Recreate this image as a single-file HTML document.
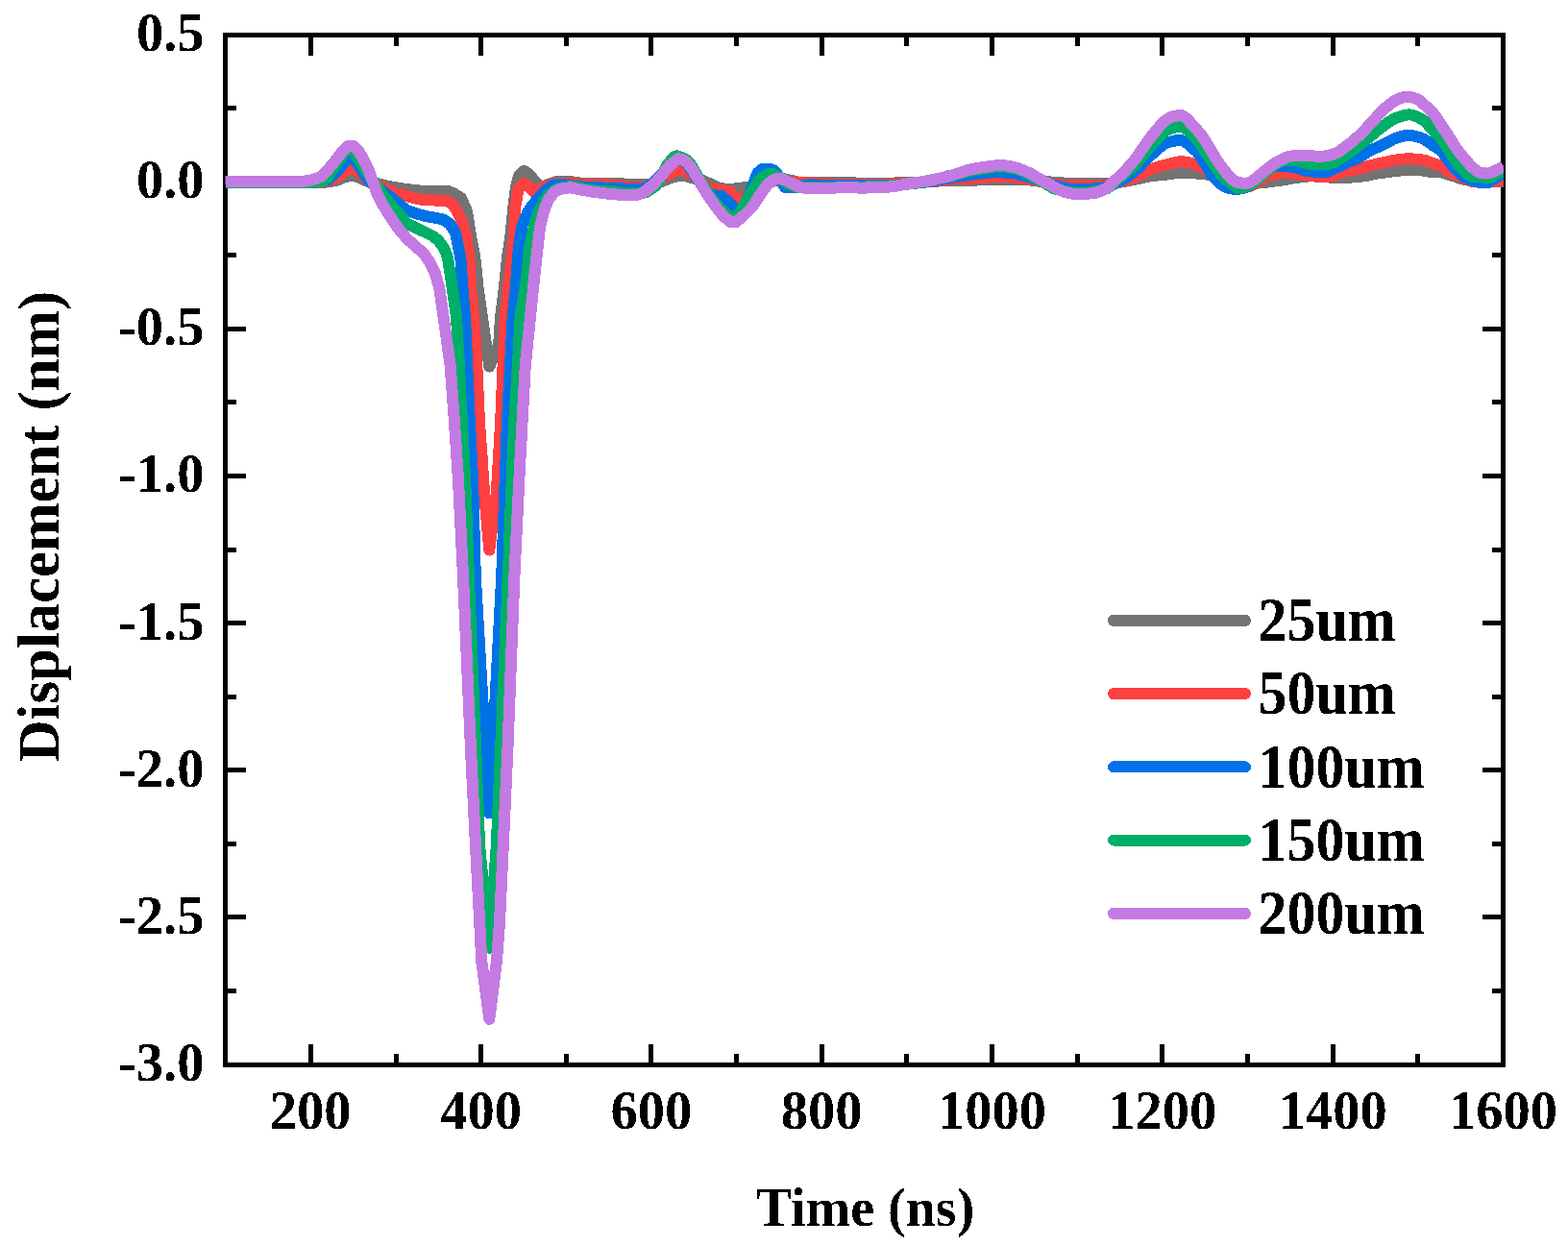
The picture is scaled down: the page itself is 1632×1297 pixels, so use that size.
<!DOCTYPE html><html><head><meta charset="utf-8"><title>Displacement vs Time</title>
<style>html,body{margin:0;padding:0;background:#fff;}body{width:1632px;height:1297px;overflow:hidden;}svg{display:block;}text{font-family:'Liberation Serif','Times New Roman',serif;font-weight:bold;fill:#000;}</style></head><body>
<svg width="1632" height="1297" viewBox="0 0 1632 1297">
<rect x="0" y="0" width="1632" height="1297" fill="#fff"/>
<defs><filter id="bin" x="-0.05" y="-0.05" width="1.1" height="1.1" color-interpolation-filters="sRGB"><feComponentTransfer><feFuncA type="discrete" tableValues="0 1"/></feComponentTransfer></filter></defs>
<path d="M237,36.50h19M1562,36.50h-19M237,112.50h9M1562,112.50h-9M237,189.50h19M1562,189.50h-19M237,265.50h9M1562,265.50h-9M237,342.50h19M1562,342.50h-19M237,418.50h9M1562,418.50h-9M237,495.50h19M1562,495.50h-19M237,572.50h9M1562,572.50h-9M237,648.50h19M1562,648.50h-19M237,725.50h9M1562,725.50h-9M237,801.50h19M1562,801.50h-19M237,878.50h9M1562,878.50h-9M237,954.50h19M1562,954.50h-19M237,1031.50h9M1562,1031.50h-9M237,1108.50h19M1562,1108.50h-19M323.50,1106v-19M323.50,39v19M412.50,1106v-9M412.50,39v9M500.50,1106v-19M500.50,39v19M589.50,1106v-9M589.50,39v9M677.50,1106v-19M677.50,39v19M766.50,1106v-9M766.50,39v9M855.50,1106v-19M855.50,39v19M943.50,1106v-9M943.50,39v9M1032.50,1106v-19M1032.50,39v19M1121.50,1106v-9M1121.50,39v9M1209.50,1106v-19M1209.50,39v19M1298.50,1106v-9M1298.50,39v9M1387.50,1106v-19M1387.50,39v19M1475.50,1106v-9M1475.50,39v9" stroke="#000" stroke-width="5" fill="none"/>
<rect x="234.5" y="36.5" width="1330" height="1072" fill="none" stroke="#000" stroke-width="5"/>
<defs><clipPath id="pa"><rect x="234.5" y="0" width="1330.4" height="1297"/></clipPath></defs><g clip-path="url(#pa)" shape-rendering="crispEdges">
<polyline points="234.5,189.5 340,189.5 350,188.0 358,184.5 366,182.5 372,184.0 380,188.0 385,189.5 392,191.0 403,193.7 418.5,196.4 438.6,198.7 467,199.1 472.5,201.5 480,206.0 486,220.0 490,246.0 494.3,268.0 497.6,300.0 501.8,330.0 509.4,381.6 519.1,359.0 521.1,330.0 524.8,300.0 528,268.0 531.3,246.0 534.5,214.0 537,195.0 540,183.0 545.2,178.0 550,180.5 557,189.0 563,195.5 570,192.0 580,189.0 593,189.0 605,190.7 640,191.0 650,191.5 676,192.3 688.6,188.9 697.2,185.5 705.8,182.9 714.4,183.3 720,185.0 731.5,188.0 748.7,195.8 760,197.5 767,196.0 778,195.0 790,192.0 800,190.0 815,186.0 834,190.3 835.5,190.3 837,190.3 838.5,190.3 840,190.3 841.5,190.3 843,190.3 844.5,190.3 846,190.3 847.5,190.3 849,190.3 850.5,190.3 852,190.3 853.5,190.3 855,190.3 856.5,190.3 858,190.3 859.5,190.3 861,190.3 862.5,190.3 864,190.3 865.5,190.3 867,190.3 868.5,190.3 870,190.3 871.5,190.3 873,190.3 874.5,190.3 876,190.3 877.5,190.3 879,190.3 880.5,190.4 882,190.4 883.5,190.4 885,190.4 886.5,190.4 888,190.4 889.5,190.4 891,190.5 892.5,190.5 894,190.5 895.5,190.5 897,190.5 898.5,190.5 900,190.5 901.5,190.5 903,190.5 904.5,190.5 906,190.5 907.5,190.5 909,190.5 910.5,190.5 912,190.5 913.5,190.5 915,190.5 916.5,190.5 918,190.5 919.5,190.5 921,190.5 922.5,190.5 924,190.5 925.5,190.5 927,190.5 928.5,190.5 930,190.5 931.5,190.5 933,190.4 934.5,190.4 936,190.4 937.5,190.3 939,190.3 940.5,190.3 942,190.2 943.5,190.2 945,190.1 946.5,190.1 948,190.1 949.5,190.0 951,190.0 952.5,189.9 954,189.9 955.5,189.8 957,189.7 958.5,189.7 960,189.6 961.5,189.5 963,189.4 964.5,189.3 966,189.2 967.5,189.1 969,189.1 970.5,189.0 972,188.9 973.5,188.8 975,188.6 976.5,188.5 978,188.4 979.5,188.2 981,188.1 982.5,188.0 984,187.9 985.5,187.8 987,187.7 988.5,187.6 990,187.6 991.5,187.6 993,187.6 994.5,187.6 996,187.6 997.5,187.6 999,187.6 1000.5,187.5 1002,187.5 1003.5,187.5 1005,187.5 1006.5,187.5 1008,187.5 1009.5,187.5 1011,187.5 1012.5,187.5 1014,187.5 1015.5,187.5 1017,187.5 1018.5,187.4 1020,187.4 1021.5,187.4 1023,187.3 1024.5,187.3 1026,187.3 1027.5,187.2 1029,187.2 1030.5,187.1 1032,187.1 1033.5,187.0 1035,187.0 1036.5,187.0 1038,186.9 1039.5,186.8 1041,186.8 1042.5,186.7 1044,186.6 1045.5,186.6 1047,186.5 1048.5,186.5 1050,186.5 1051.5,186.5 1053,186.5 1054.5,186.6 1056,186.6 1057.5,186.7 1059,186.7 1060.5,186.8 1062,186.9 1063.5,186.9 1065,187.0 1066.5,187.1 1068,187.2 1069.5,187.3 1071,187.4 1072.5,187.5 1074,187.6 1075.5,187.7 1077,187.8 1078.5,187.9 1080,188.1 1081.5,188.2 1083,188.4 1084.5,188.5 1086,188.7 1087.5,188.8 1089,189.0 1090.5,189.2 1092,189.3 1093.5,189.5 1095,189.6 1096.5,189.7 1098,189.9 1099.5,190.0 1101,190.1 1102.5,190.2 1104,190.3 1105.5,190.4 1107,190.5 1108.5,190.6 1110,190.6 1111.5,190.7 1113,190.8 1114.5,190.9 1116,191.0 1117.5,191.0 1119,191.1 1120.5,191.1 1122,191.1 1123.5,191.1 1125,191.1 1126.5,191.1 1128,191.1 1129.5,191.1 1131,191.1 1132.5,191.1 1134,191.1 1135.5,191.1 1137,191.1 1138.5,191.1 1140,191.1 1141.5,191.1 1143,191.1 1144.5,191.1 1146,191.1 1147.5,191.1 1149,191.1 1150.5,191.1 1152,191.1 1153.5,191.0 1155,190.9 1156.5,190.7 1158,190.6 1159.5,190.4 1161,190.2 1162.5,190.1 1164,189.9 1165.5,189.7 1167,189.5 1168.5,189.2 1170,188.9 1171.5,188.7 1173,188.4 1174.5,188.1 1176,187.8 1177.5,187.5 1179,187.2 1180.5,186.9 1182,186.6 1183.5,186.3 1185,186.0 1186.5,185.6 1188,185.3 1189.5,185.0 1191,184.6 1192.5,184.3 1194,184.0 1195.5,183.7 1197,183.5 1198.5,183.2 1200,183.0 1201.5,182.8 1203,182.6 1204.5,182.5 1206,182.3 1207.5,182.2 1209,182.1 1210.5,181.9 1212,181.8 1213.5,181.7 1215,181.5 1216.5,181.3 1218,181.1 1219.5,180.8 1221,180.6 1222.5,180.3 1224,180.1 1225.5,179.9 1227,179.7 1228.5,179.6 1230,179.6 1231.5,179.6 1233,179.7 1234.5,179.7 1236,179.8 1237.5,179.9 1239,180.0 1240.5,180.1 1242,180.3 1243.5,180.4 1245,180.5 1246.5,180.6 1248,180.7 1249.5,180.9 1251,181.0 1252.5,181.1 1254,181.3 1255.5,181.5 1257,181.7 1258.5,181.9 1260,182.2 1261.5,182.6 1263,183.0 1264.5,183.4 1266,183.8 1267.5,184.3 1269,184.7 1270.5,185.1 1272,185.5 1273.5,186.0 1275,186.4 1276.5,186.8 1278,187.2 1279.5,187.6 1281,188.0 1282.5,188.4 1284,188.8 1285.5,189.1 1287,189.5 1288.5,189.9 1290,190.3 1291.5,190.6 1293,190.9 1294.5,191.0 1296,191.0 1297.5,191.0 1299,190.9 1300.5,190.9 1302,190.9 1303.5,190.8 1305,190.7 1306.5,190.7 1308,190.6 1309.5,190.5 1311,190.4 1312.5,190.2 1314,190.1 1315.5,189.9 1317,189.8 1318.5,189.6 1320,189.4 1321.5,189.2 1323,189.0 1324.5,188.8 1326,188.6 1327.5,188.4 1329,188.2 1330.5,188.0 1332,187.8 1333.5,187.6 1335,187.4 1336.5,187.2 1338,187.0 1339.5,186.7 1341,186.5 1342.5,186.1 1344,185.8 1345.5,185.5 1347,185.3 1348.5,185.0 1350,184.8 1351.5,184.6 1353,184.4 1354.5,184.2 1356,184.1 1357.5,183.9 1359,183.8 1360.5,183.6 1362,183.5 1363.5,183.4 1365,183.4 1366.5,183.4 1368,183.5 1369.5,183.5 1371,183.6 1372.5,183.7 1374,183.9 1375.5,184.0 1377,184.1 1378.5,184.3 1380,184.4 1381.5,184.4 1383,184.5 1384.5,184.5 1386,184.5 1387.5,184.5 1389,184.5 1390.5,184.5 1392,184.5 1393.5,184.5 1395,184.5 1396.5,184.5 1398,184.5 1399.5,184.5 1401,184.5 1402.5,184.5 1404,184.5 1405.5,184.5 1407,184.5 1408.5,184.4 1410,184.3 1411.5,184.2 1413,184.0 1414.5,183.9 1416,183.7 1417.5,183.5 1419,183.3 1420.5,183.1 1422,182.9 1423.5,182.6 1425,182.3 1426.5,182.0 1428,181.7 1429.5,181.3 1431,181.0 1432.5,180.7 1434,180.5 1435.5,180.3 1437,180.1 1438.5,179.9 1440,179.7 1441.5,179.5 1443,179.3 1444.5,179.0 1446,178.8 1447.5,178.6 1449,178.4 1450.5,178.2 1452,178.0 1453.5,177.9 1455,177.7 1456.5,177.6 1458,177.4 1459.5,177.3 1461,177.2 1462.5,177.1 1464,177.1 1465.5,177.0 1467,177.0 1468.5,177.0 1470,177.0 1471.5,177.1 1473,177.1 1474.5,177.2 1476,177.3 1477.5,177.4 1479,177.4 1480.5,177.5 1482,177.7 1483.5,177.9 1485,178.2 1486.5,178.5 1488,178.7 1489.5,179.0 1491,179.2 1492.5,179.3 1494,179.3 1495.5,179.3 1497,179.4 1498.5,179.4 1500,179.4 1501.5,179.6 1503,180.0 1504.5,180.6 1506,181.2 1507.5,181.7 1509,182.1 1510.5,182.6 1512,183.0 1513.5,183.5 1515,184.0 1516.5,184.5 1518,185.1 1519.5,185.6 1521,186.1 1522.5,186.4 1524,186.8 1525.5,187.1 1527,187.3 1528.5,187.5 1530,187.6 1531.5,187.8 1533,187.9 1534.5,188.0 1536,188.1 1537.5,188.2 1539,188.3 1540.5,188.3 1542,188.4 1543.5,188.5 1545,188.5 1546.5,188.5 1548,188.6 1549.5,188.6 1551,188.6 1552.5,188.7 1554,188.7 1555.5,188.7 1557,188.7 1558.5,188.8 1560,188.8 1561.5,188.8 1563,188.8 1564.5,188.8 1565,188.8" fill="none" stroke="#737373" stroke-width="12" stroke-linejoin="round" stroke-linecap="butt"/>
<polyline points="234.5,189.5 335,189.5 345,187.5 352,184.0 358,179.0 364.5,174.7 370,177.1 376,181.5 383,187.5 392,192.5 410.8,200.7 429.3,205.7 440,208.0 447.8,208.4 465,208.8 471.3,212.7 477,222.0 481.5,233.0 485.4,246.4 488.3,268.0 490.1,300.0 493.2,330.0 496.3,380.0 499,440.0 501.9,480.0 504,512.7 509.3,572.6 516.8,512.7 518.8,480.0 521.1,440.0 523.6,380.0 525.8,330.0 529,300.0 532.5,268.0 535,246.0 536.5,214.0 539.5,197.0 545.2,190.8 551.2,195.1 556.6,200.5 564.7,195.3 575.5,190.7 594,190.7 605.5,192.2 620,192.3 640,192.6 650,194.0 671.5,195.8 690,185.0 707.5,175.4 724,184.0 740,197.5 745,197.2 760,199.5 769,211.0 776,204.0 782,197.0 790,190.0 800,186.0 810,188.0 820,190.0 835,190.0 836.5,189.8 838,189.7 839.5,189.6 841,189.5 842.5,189.5 844,189.5 845.5,189.6 847,189.7 848.5,189.8 850,190.0 851.5,190.2 853,190.4 854.5,190.6 856,190.8 857.5,191.0 859,191.1 860.5,191.2 862,191.3 863.5,191.4 865,191.5 866.5,191.6 868,191.6 869.5,191.7 871,191.8 872.5,191.8 874,191.9 875.5,191.9 877,192.0 878.5,192.0 880,192.0 881.5,192.0 883,192.0 884.5,191.9 886,191.9 887.5,191.8 889,191.8 890.5,191.7 892,191.7 893.5,191.6 895,191.6 896.5,191.5 898,191.5 899.5,191.5 901,191.5 902.5,191.5 904,191.5 905.5,191.5 907,191.5 908.5,191.5 910,191.5 911.5,191.5 913,191.5 914.5,191.5 916,191.5 917.5,191.5 919,191.5 920.5,191.5 922,191.5 923.5,191.5 925,191.5 926.5,191.5 928,191.5 929.5,191.4 931,191.4 932.5,191.4 934,191.3 935.5,191.3 937,191.2 938.5,191.1 940,191.0 941.5,191.0 943,190.9 944.5,190.8 946,190.7 947.5,190.6 949,190.6 950.5,190.5 952,190.4 953.5,190.3 955,190.2 956.5,190.1 958,190.0 959.5,189.9 961,189.8 962.5,189.7 964,189.5 965.5,189.4 967,189.3 968.5,189.1 970,189.0 971.5,188.8 973,188.7 974.5,188.5 976,188.3 977.5,188.0 979,187.8 980.5,187.6 982,187.4 983.5,187.2 985,187.0 986.5,186.8 988,186.7 989.5,186.5 991,186.4 992.5,186.3 994,186.3 995.5,186.2 997,186.1 998.5,186.1 1000,186.0 1001.5,186.0 1003,185.9 1004.5,185.8 1006,185.8 1007.5,185.7 1009,185.7 1010.5,185.6 1012,185.5 1013.5,185.5 1015,185.4 1016.5,185.3 1018,185.2 1019.5,185.1 1021,185.0 1022.5,184.9 1024,184.8 1025.5,184.7 1027,184.6 1028.5,184.5 1030,184.4 1031.5,184.4 1033,184.3 1034.5,184.3 1036,184.3 1037.5,184.3 1039,184.3 1040.5,184.3 1042,184.3 1043.5,184.3 1045,184.3 1046.5,184.3 1048,184.3 1049.5,184.3 1051,184.3 1052.5,184.4 1054,184.4 1055.5,184.5 1057,184.7 1058.5,184.8 1060,185.0 1061.5,185.2 1063,185.4 1064.5,185.7 1066,185.9 1067.5,186.1 1069,186.4 1070.5,186.6 1072,186.9 1073.5,187.1 1075,187.3 1076.5,187.6 1078,187.9 1079.5,188.2 1081,188.5 1082.5,188.9 1084,189.2 1085.5,189.6 1087,189.9 1088.5,190.3 1090,190.6 1091.5,190.9 1093,191.2 1094.5,191.5 1096,191.7 1097.5,191.9 1099,192.1 1100.5,192.2 1102,192.4 1103.5,192.5 1105,192.6 1106.5,192.7 1108,192.8 1109.5,192.9 1111,192.9 1112.5,193.0 1114,193.1 1115.5,193.2 1117,193.2 1118.5,193.2 1120,193.3 1121.5,193.3 1123,193.3 1124.5,193.3 1126,193.3 1127.5,193.3 1129,193.3 1130.5,193.3 1132,193.2 1133.5,193.2 1135,193.2 1136.5,193.2 1138,193.1 1139.5,193.1 1141,193.1 1142.5,193.0 1144,193.0 1145.5,193.0 1147,192.9 1148.5,192.9 1150,192.8 1151.5,192.7 1153,192.5 1154.5,192.2 1156,191.9 1157.5,191.5 1159,191.1 1160.5,190.7 1162,190.3 1163.5,189.9 1165,189.5 1166.5,189.1 1168,188.7 1169.5,188.2 1171,187.8 1172.5,187.3 1174,186.9 1175.5,186.4 1177,185.9 1178.5,185.3 1180,184.8 1181.5,184.2 1183,183.6 1184.5,182.9 1186,182.1 1187.5,181.4 1189,180.6 1190.5,179.8 1192,179.1 1193.5,178.3 1195,177.6 1196.5,176.9 1198,176.3 1199.5,175.7 1201,175.2 1202.5,174.7 1204,174.2 1205.5,173.8 1207,173.3 1208.5,172.9 1210,172.5 1211.5,172.2 1213,171.8 1214.5,171.4 1216,171.0 1217.5,170.6 1219,170.2 1220.5,169.8 1222,169.4 1223.5,169.0 1225,168.7 1226.5,168.5 1228,168.3 1229.5,168.3 1231,168.4 1232.5,168.5 1234,168.7 1235.5,169.0 1237,169.3 1238.5,169.7 1240,170.1 1241.5,170.5 1243,170.9 1244.5,171.4 1246,171.8 1247.5,172.4 1249,173.1 1250.5,173.8 1252,174.7 1253.5,175.6 1255,176.5 1256.5,177.4 1258,178.4 1259.5,179.4 1261,180.4 1262.5,181.3 1264,182.3 1265.5,183.5 1267,184.6 1268.5,185.8 1270,186.9 1271.5,188.0 1273,188.9 1274.5,189.8 1276,190.5 1277.5,191.2 1279,191.9 1280.5,192.5 1282,193.2 1283.5,193.7 1285,194.2 1286.5,194.6 1288,194.9 1289.5,195.0 1291,195.0 1292.5,194.9 1294,194.8 1295.5,194.7 1297,194.5 1298.5,194.2 1300,194.0 1301.5,193.6 1303,193.0 1304.5,192.1 1306,191.2 1307.5,190.2 1309,189.2 1310.5,188.3 1312,187.4 1313.5,186.6 1315,185.7 1316.5,184.8 1318,183.9 1319.5,183.2 1321,182.6 1322.5,182.2 1324,181.8 1325.5,181.4 1327,181.1 1328.5,180.8 1330,180.6 1331.5,180.5 1333,180.4 1334.5,180.4 1336,180.4 1337.5,180.4 1339,180.4 1340.5,180.4 1342,180.4 1343.5,180.4 1345,180.4 1346.5,180.6 1348,180.8 1349.5,181.0 1351,181.3 1352.5,181.6 1354,181.9 1355.5,182.1 1357,182.3 1358.5,182.6 1360,182.8 1361.5,183.0 1363,183.2 1364.5,183.3 1366,183.3 1367.5,183.4 1369,183.4 1370.5,183.5 1372,183.5 1373.5,183.6 1375,183.6 1376.5,183.6 1378,183.7 1379.5,183.7 1381,183.7 1382.5,183.7 1384,183.7 1385.5,183.6 1387,183.3 1388.5,182.8 1390,182.2 1391.5,181.6 1393,181.0 1394.5,180.3 1396,179.8 1397.5,179.4 1399,179.0 1400.5,178.6 1402,178.3 1403.5,178.0 1405,177.6 1406.5,177.3 1408,177.0 1409.5,176.7 1411,176.4 1412.5,176.1 1414,175.8 1415.5,175.4 1417,175.1 1418.5,174.7 1420,174.2 1421.5,173.8 1423,173.3 1424.5,172.9 1426,172.4 1427.5,172.0 1429,171.6 1430.5,171.2 1432,170.9 1433.5,170.6 1435,170.3 1436.5,170.0 1438,169.7 1439.5,169.4 1441,169.1 1442.5,168.8 1444,168.4 1445.5,168.1 1447,167.8 1448.5,167.4 1450,167.1 1451.5,166.9 1453,166.6 1454.5,166.4 1456,166.2 1457.5,166.0 1459,165.8 1460.5,165.7 1462,165.5 1463.5,165.4 1465,165.3 1466.5,165.3 1468,165.3 1469.5,165.4 1471,165.5 1472.5,165.6 1474,165.7 1475.5,165.9 1477,166.0 1478.5,166.2 1480,166.4 1481.5,166.7 1483,167.0 1484.5,167.5 1486,168.0 1487.5,168.6 1489,169.2 1490.5,169.7 1492,170.3 1493.5,170.8 1495,171.3 1496.5,171.7 1498,172.2 1499.5,172.8 1501,173.5 1502.5,174.6 1504,175.8 1505.5,177.0 1507,178.0 1508.5,178.9 1510,179.7 1511.5,180.6 1513,181.3 1514.5,182.1 1516,182.8 1517.5,183.5 1519,184.1 1520.5,184.8 1522,185.4 1523.5,185.9 1525,186.5 1526.5,187.1 1528,187.6 1529.5,188.1 1531,188.6 1532.5,188.9 1534,189.1 1535.5,189.3 1537,189.5 1538.5,189.7 1540,189.8 1541.5,189.9 1543,190.0 1544.5,190.0 1546,190.0 1547.5,189.9 1549,189.8 1550.5,189.6 1552,189.4 1553.5,189.2 1555,189.0 1556.5,188.8 1558,188.5 1559.5,188.2 1561,187.9 1562.5,187.6 1564,187.2 1565,187.0" fill="none" stroke="#FF4040" stroke-width="12" stroke-linejoin="round" stroke-linecap="butt"/>
<polyline points="234.5,189.5 330,189.5 340,188.0 345,184.0 352,177.4 358,169.2 364,161.0 370,167.8 376,176.0 381,184.0 386,190.0 393,195.0 405,204.0 418.5,215.0 423,219.0 441,224.6 461,228.3 468,233.0 474,242.0 479.3,268.0 481.5,300.0 484,330.0 486.2,380.0 488.9,440.0 492.1,500.0 494.8,600.0 509.3,846.4 522.2,600.0 525.7,500.0 527.9,440.0 531,380.0 533.7,330.0 536.7,300.0 539.9,257.2 543.2,235.6 549.3,220.8 554.7,213.0 560.1,206.9 567,199.0 574,193.0 578.5,192.2 586.3,192.2 601.7,194.1 617.1,195.3 640,195.7 650,196.6 670,197.0 680,190.0 690,180.0 700,168.5 707,166.0 714,168.5 720,178.0 730,192.0 740,203.2 751.2,204.0 759.7,211.8 767.5,219.5 771,221.5 777,208.0 783.5,193.0 788.5,180.0 792.5,176.2 801.8,176.2 806,177.4 810.3,183.0 817,195.0 832,195.5 833.5,194.8 835,194.1 836.5,193.5 838,192.9 839.5,192.5 841,192.2 842.5,192.0 844,192.0 845.5,192.0 847,192.1 848.5,192.2 850,192.3 851.5,192.4 853,192.5 854.5,192.6 856,192.7 857.5,192.8 859,192.9 860.5,192.9 862,193.0 863.5,193.0 865,193.0 866.5,193.1 868,193.1 869.5,193.2 871,193.2 872.5,193.2 874,193.3 875.5,193.3 877,193.3 878.5,193.3 880,193.3 881.5,193.3 883,193.3 884.5,193.3 886,193.2 887.5,193.2 889,193.2 890.5,193.1 892,193.1 893.5,193.1 895,193.0 896.5,193.0 898,193.0 899.5,193.0 901,193.0 902.5,193.0 904,193.0 905.5,193.0 907,193.0 908.5,193.0 910,193.0 911.5,193.0 913,193.0 914.5,193.0 916,193.0 917.5,193.0 919,193.0 920.5,193.0 922,193.0 923.5,193.0 925,193.0 926.5,193.0 928,193.0 929.5,192.9 931,192.8 932.5,192.7 934,192.6 935.5,192.5 937,192.4 938.5,192.2 940,192.1 941.5,191.9 943,191.7 944.5,191.6 946,191.4 947.5,191.3 949,191.1 950.5,191.0 952,190.8 953.5,190.6 955,190.5 956.5,190.3 958,190.1 959.5,189.9 961,189.8 962.5,189.6 964,189.4 965.5,189.1 967,188.9 968.5,188.7 970,188.5 971.5,188.3 973,188.0 974.5,187.7 976,187.5 977.5,187.2 979,186.9 980.5,186.6 982,186.3 983.5,186.0 985,185.7 986.5,185.4 988,185.1 989.5,184.9 991,184.6 992.5,184.4 994,184.2 995.5,183.9 997,183.7 998.5,183.5 1000,183.2 1001.5,183.0 1003,182.8 1004.5,182.6 1006,182.4 1007.5,182.2 1009,182.0 1010.5,181.8 1012,181.6 1013.5,181.4 1015,181.3 1016.5,181.1 1018,180.9 1019.5,180.7 1021,180.5 1022.5,180.3 1024,180.1 1025.5,179.9 1027,179.7 1028.5,179.6 1030,179.5 1031.5,179.4 1033,179.3 1034.5,179.3 1036,179.3 1037.5,179.3 1039,179.3 1040.5,179.4 1042,179.4 1043.5,179.5 1045,179.5 1046.5,179.6 1048,179.7 1049.5,179.8 1051,179.9 1052.5,180.0 1054,180.2 1055.5,180.5 1057,180.7 1058.5,181.1 1060,181.4 1061.5,181.8 1063,182.2 1064.5,182.6 1066,183.0 1067.5,183.5 1069,183.9 1070.5,184.3 1072,184.7 1073.5,185.1 1075,185.6 1076.5,186.0 1078,186.5 1079.5,187.1 1081,187.6 1082.5,188.2 1084,188.7 1085.5,189.3 1087,189.9 1088.5,190.4 1090,191.0 1091.5,191.5 1093,192.0 1094.5,192.5 1096,192.9 1097.5,193.3 1099,193.7 1100.5,194.0 1102,194.3 1103.5,194.6 1105,194.9 1106.5,195.2 1108,195.5 1109.5,195.8 1111,196.1 1112.5,196.3 1114,196.5 1115.5,196.7 1117,196.9 1118.5,197.0 1120,197.1 1121.5,197.2 1123,197.2 1124.5,197.2 1126,197.2 1127.5,197.1 1129,197.1 1130.5,197.0 1132,196.9 1133.5,196.8 1135,196.7 1136.5,196.6 1138,196.4 1139.5,196.3 1141,196.1 1142.5,196.0 1144,195.8 1145.5,195.6 1147,195.4 1148.5,195.2 1150,195.0 1151.5,194.7 1153,194.3 1154.5,193.8 1156,193.2 1157.5,192.6 1159,191.9 1160.5,191.2 1162,190.5 1163.5,189.8 1165,189.0 1166.5,188.2 1168,187.3 1169.5,186.4 1171,185.5 1172.5,184.5 1174,183.4 1175.5,182.4 1177,181.3 1178.5,180.1 1180,179.0 1181.5,177.8 1183,176.5 1184.5,175.1 1186,173.6 1187.5,172.1 1189,170.5 1190.5,169.0 1192,167.4 1193.5,165.9 1195,164.3 1196.5,162.9 1198,161.5 1199.5,160.1 1201,158.9 1202.5,157.5 1204,156.2 1205.5,154.9 1207,153.6 1208.5,152.4 1210,151.2 1211.5,150.2 1213,149.4 1214.5,148.8 1216,148.3 1217.5,147.8 1219,147.4 1220.5,147.0 1222,146.7 1223.5,146.4 1225,146.2 1226.5,146.0 1228,146.0 1229.5,146.1 1231,146.5 1232.5,147.2 1234,148.0 1235.5,149.0 1237,150.1 1238.5,151.4 1240,152.8 1241.5,154.2 1243,155.6 1244.5,157.0 1246,158.5 1247.5,160.3 1249,162.4 1250.5,164.6 1252,166.9 1253.5,169.2 1255,171.6 1256.5,174.1 1258,176.8 1259.5,179.3 1261,181.7 1262.5,183.6 1264,185.3 1265.5,186.7 1267,188.1 1268.5,189.4 1270,190.8 1271.5,192.2 1273,193.3 1274.5,194.3 1276,194.9 1277.5,195.5 1279,196.0 1280.5,196.4 1282,196.5 1283.5,196.5 1285,196.5 1286.5,196.5 1288,196.5 1289.5,196.5 1291,196.5 1292.5,196.2 1294,195.9 1295.5,195.4 1297,194.9 1298.5,194.3 1300,193.5 1301.5,192.6 1303,191.5 1304.5,190.4 1306,189.2 1307.5,187.9 1309,186.6 1310.5,185.1 1312,183.7 1313.5,182.3 1315,181.0 1316.5,179.7 1318,178.5 1319.5,177.3 1321,176.1 1322.5,175.2 1324,174.2 1325.5,173.3 1327,172.7 1328.5,172.6 1330,172.8 1331.5,173.0 1333,173.1 1334.5,173.2 1336,173.2 1337.5,173.3 1339,173.3 1340.5,173.4 1342,173.5 1343.5,173.6 1345,173.7 1346.5,173.9 1348,174.3 1349.5,174.6 1351,175.0 1352.5,175.4 1354,176.0 1355.5,176.6 1357,177.2 1358.5,177.7 1360,178.0 1361.5,178.2 1363,178.3 1364.5,178.4 1366,178.5 1367.5,178.6 1369,178.7 1370.5,178.7 1372,178.8 1373.5,178.8 1375,178.8 1376.5,178.9 1378,178.9 1379.5,178.9 1381,178.8 1382.5,178.4 1384,177.8 1385.5,177.1 1387,176.3 1388.5,175.6 1390,175.0 1391.5,174.3 1393,173.6 1394.5,172.8 1396,172.1 1397.5,171.3 1399,170.6 1400.5,169.9 1402,169.2 1403.5,168.6 1405,168.0 1406.5,167.5 1408,166.9 1409.5,166.3 1411,165.7 1412.5,165.0 1414,164.3 1415.5,163.5 1417,162.6 1418.5,161.6 1420,160.6 1421.5,159.6 1423,158.6 1424.5,157.7 1426,156.8 1427.5,156.1 1429,155.4 1430.5,154.7 1432,154.0 1433.5,153.3 1435,152.7 1436.5,152.0 1438,151.3 1439.5,150.5 1441,149.7 1442.5,149.0 1444,148.2 1445.5,147.4 1447,146.6 1448.5,145.8 1450,145.0 1451.5,144.3 1453,143.7 1454.5,143.2 1456,142.8 1457.5,142.4 1459,142.0 1460.5,141.6 1462,141.3 1463.5,141.1 1465,141.0 1466.5,140.9 1468,141.0 1469.5,141.1 1471,141.4 1472.5,141.7 1474,142.1 1475.5,142.5 1477,143.0 1478.5,143.5 1480,144.0 1481.5,144.7 1483,145.4 1484.5,146.3 1486,147.3 1487.5,148.4 1489,149.5 1490.5,150.6 1492,151.7 1493.5,152.7 1495,153.6 1496.5,154.5 1498,155.4 1499.5,156.6 1501,158.0 1502.5,160.0 1504,162.2 1505.5,164.4 1507,166.5 1508.5,168.4 1510,170.4 1511.5,172.2 1513,174.0 1514.5,175.7 1516,177.2 1517.5,178.8 1519,180.3 1520.5,181.7 1522,183.0 1523.5,184.1 1525,185.0 1526.5,185.7 1528,186.4 1529.5,187.0 1531,187.6 1532.5,188.1 1534,188.5 1535.5,188.8 1537,189.2 1538.5,189.5 1540,189.7 1541.5,189.8 1543,189.8 1544.5,189.8 1546,189.8 1547.5,189.8 1549,189.8 1550.5,189.2 1552,188.3 1553.5,187.1 1555,186.0 1556.5,185.2 1558,184.4 1559.5,183.6 1561,182.8 1562.5,182.1 1564,181.4 1565,180.9" fill="none" stroke="#0072E6" stroke-width="12" stroke-linejoin="round" stroke-linecap="butt"/>
<polyline points="234.5,189.5 326,189.5 336,188.5 341,185.0 345,177.5 352,168.4 358,160.1 363.5,153.5 370,160.0 376,170.0 382,180.0 390,190.0 397.7,202.0 410,217.0 424,233.0 441,241.0 450,245.5 456,250.0 462,258.0 466,268.0 470,295.0 475,330.0 477.9,380.0 481,440.0 484.2,500.0 487.9,600.0 495.2,780.0 499.1,880.0 509.3,986.8 516.8,880.0 521.1,780.0 528.8,600.0 532.6,500.0 535.2,440.0 538.9,380.0 541.6,330.0 548,290.0 551,260.0 553.7,244.8 558.3,227.1 565,212.0 570,204.0 577,198.0 583,195.5 594,194.1 609.4,196.8 624.8,199.2 640,199.5 650,200.9 672,200.5 683,193.0 690,181.0 694,172.0 701.5,163.5 704.9,162.3 709.2,164.0 715.2,167.0 719.5,172.0 730,190.0 745,212.0 760.6,228.0 770,222.0 774,214.0 783,198.0 791.5,186.0 800,181.0 805,181.0 811,184.0 820,192.0 832,195.5 833.5,195.4 835,195.2 836.5,195.1 838,195.0 839.5,194.9 841,194.8 842.5,194.7 844,194.6 845.5,194.6 847,194.6 848.5,194.6 850,194.6 851.5,194.6 853,194.6 854.5,194.7 856,194.7 857.5,194.7 859,194.7 860.5,194.8 862,194.8 863.5,194.8 865,194.8 866.5,194.9 868,194.9 869.5,194.9 871,194.9 872.5,195.0 874,195.0 875.5,195.0 877,195.0 878.5,195.0 880,195.0 881.5,195.0 883,195.0 884.5,195.0 886,194.9 887.5,194.9 889,194.9 890.5,194.8 892,194.8 893.5,194.7 895,194.7 896.5,194.6 898,194.6 899.5,194.5 901,194.5 902.5,194.4 904,194.4 905.5,194.3 907,194.3 908.5,194.2 910,194.2 911.5,194.1 913,194.1 914.5,194.0 916,193.9 917.5,193.9 919,193.8 920.5,193.7 922,193.7 923.5,193.6 925,193.5 926.5,193.4 928,193.3 929.5,193.2 931,193.1 932.5,193.0 934,192.8 935.5,192.7 937,192.5 938.5,192.4 940,192.2 941.5,192.0 943,191.9 944.5,191.7 946,191.5 947.5,191.3 949,191.1 950.5,190.9 952,190.7 953.5,190.5 955,190.3 956.5,190.0 958,189.8 959.5,189.5 961,189.3 962.5,189.0 964,188.7 965.5,188.4 967,188.1 968.5,187.8 970,187.5 971.5,187.2 973,186.8 974.5,186.5 976,186.1 977.5,185.8 979,185.4 980.5,185.0 982,184.6 983.5,184.2 985,183.8 986.5,183.4 988,183.1 989.5,182.7 991,182.4 992.5,182.0 994,181.7 995.5,181.3 997,180.9 998.5,180.6 1000,180.2 1001.5,179.9 1003,179.5 1004.5,179.2 1006,178.9 1007.5,178.6 1009,178.3 1010.5,178.0 1012,177.7 1013.5,177.4 1015,177.2 1016.5,176.9 1018,176.7 1019.5,176.5 1021,176.2 1022.5,176.0 1024,175.8 1025.5,175.6 1027,175.4 1028.5,175.2 1030,175.0 1031.5,174.8 1033,174.6 1034.5,174.4 1036,174.1 1037.5,173.9 1039,173.7 1040.5,173.6 1042,173.6 1043.5,173.7 1045,173.9 1046.5,174.0 1048,174.2 1049.5,174.5 1051,174.7 1052.5,175.0 1054,175.3 1055.5,175.6 1057,175.9 1058.5,176.3 1060,176.8 1061.5,177.4 1063,178.0 1064.5,178.7 1066,179.5 1067.5,180.2 1069,181.0 1070.5,181.8 1072,182.5 1073.5,183.2 1075,184.0 1076.5,184.7 1078,185.4 1079.5,186.2 1081,186.9 1082.5,187.7 1084,188.5 1085.5,189.3 1087,190.2 1088.5,191.2 1090,192.1 1091.5,193.1 1093,194.0 1094.5,194.9 1096,195.7 1097.5,196.4 1099,196.9 1100.5,197.3 1102,197.7 1103.5,198.0 1105,198.3 1106.5,198.6 1108,198.9 1109.5,199.2 1111,199.5 1112.5,199.7 1114,199.9 1115.5,200.1 1117,200.2 1118.5,200.4 1120,200.4 1121.5,200.5 1123,200.5 1124.5,200.5 1126,200.4 1127.5,200.4 1129,200.3 1130.5,200.2 1132,200.1 1133.5,199.9 1135,199.7 1136.5,199.5 1138,199.3 1139.5,199.1 1141,198.9 1142.5,198.6 1144,198.3 1145.5,198.0 1147,197.7 1148.5,197.4 1150,197.0 1151.5,196.5 1153,195.6 1154.5,194.6 1156,193.3 1157.5,192.0 1159,190.6 1160.5,189.2 1162,187.8 1163.5,186.6 1165,185.4 1166.5,184.3 1168,183.1 1169.5,181.9 1171,180.7 1172.5,179.5 1174,178.3 1175.5,177.0 1177,175.7 1178.5,174.3 1180,172.9 1181.5,171.4 1183,169.7 1184.5,168.0 1186,166.2 1187.5,164.3 1189,162.4 1190.5,160.5 1192,158.6 1193.5,156.7 1195,154.8 1196.5,153.0 1198,151.3 1199.5,149.6 1201,148.1 1202.5,146.4 1204,144.8 1205.5,143.2 1207,141.6 1208.5,140.1 1210,138.7 1211.5,137.5 1213,136.5 1214.5,135.6 1216,135.0 1217.5,134.4 1219,133.8 1220.5,133.2 1222,132.8 1223.5,132.4 1225,132.1 1226.5,131.9 1228,131.8 1229.5,132.0 1231,132.5 1232.5,133.2 1234,134.1 1235.5,135.2 1237,136.3 1238.5,137.4 1240,138.7 1241.5,140.3 1243,142.1 1244.5,144.0 1246,146.0 1247.5,147.9 1249,149.9 1250.5,152.0 1252,154.1 1253.5,156.3 1255,158.5 1256.5,160.8 1258,163.0 1259.5,165.3 1261,167.6 1262.5,169.9 1264,172.3 1265.5,174.6 1267,176.8 1268.5,178.7 1270,180.6 1271.5,182.4 1273,184.1 1274.5,185.6 1276,186.9 1277.5,188.1 1279,189.2 1280.5,190.2 1282,191.3 1283.5,192.5 1285,193.7 1286.5,194.9 1288,195.8 1289.5,196.3 1291,196.2 1292.5,195.6 1294,194.9 1295.5,194.3 1297,193.8 1298.5,193.3 1300,192.7 1301.5,191.9 1303,191.1 1304.5,190.1 1306,189.0 1307.5,187.8 1309,186.6 1310.5,185.4 1312,184.2 1313.5,182.9 1315,181.6 1316.5,180.2 1318,178.8 1319.5,177.5 1321,176.3 1322.5,175.1 1324,173.9 1325.5,172.7 1327,171.5 1328.5,170.4 1330,169.5 1331.5,168.7 1333,168.2 1334.5,167.9 1336,167.5 1337.5,167.2 1339,167.0 1340.5,166.8 1342,166.7 1343.5,166.6 1345,166.6 1346.5,166.8 1348,167.0 1349.5,167.2 1351,167.5 1352.5,167.8 1354,168.3 1355.5,168.9 1357,169.5 1358.5,170.1 1360,170.4 1361.5,170.6 1363,170.8 1364.5,171.0 1366,171.1 1367.5,171.2 1369,171.3 1370.5,171.3 1372,171.3 1373.5,171.2 1375,171.2 1376.5,171.1 1378,171.0 1379.5,170.9 1381,170.8 1382.5,170.6 1384,170.2 1385.5,169.7 1387,169.1 1388.5,168.4 1390,167.7 1391.5,166.9 1393,166.2 1394.5,165.4 1396,164.6 1397.5,163.6 1399,162.7 1400.5,161.6 1402,160.6 1403.5,159.5 1405,158.5 1406.5,157.4 1408,156.3 1409.5,155.2 1411,154.0 1412.5,152.8 1414,151.6 1415.5,150.5 1417,149.3 1418.5,148.1 1420,146.9 1421.5,145.7 1423,144.5 1424.5,143.3 1426,142.2 1427.5,140.9 1429,139.7 1430.5,138.5 1432,137.3 1433.5,136.0 1435,134.8 1436.5,133.6 1438,132.4 1439.5,131.3 1441,130.2 1442.5,129.1 1444,128.0 1445.5,127.1 1447,126.1 1448.5,125.2 1450,124.3 1451.5,123.6 1453,122.9 1454.5,122.4 1456,121.8 1457.5,121.3 1459,120.8 1460.5,120.3 1462,120.0 1463.5,119.7 1465,119.5 1466.5,119.4 1468,119.5 1469.5,119.7 1471,120.1 1472.5,120.6 1474,121.1 1475.5,121.8 1477,122.5 1478.5,123.3 1480,124.1 1481.5,125.0 1483,126.3 1484.5,127.8 1486,129.4 1487.5,131.1 1489,132.8 1490.5,134.4 1492,135.9 1493.5,137.4 1495,138.9 1496.5,140.5 1498,142.1 1499.5,143.9 1501,145.8 1502.5,148.0 1504,150.3 1505.5,152.6 1507,155.0 1508.5,157.4 1510,159.9 1511.5,162.4 1513,164.8 1514.5,167.0 1516,169.0 1517.5,171.0 1519,172.9 1520.5,174.7 1522,176.3 1523.5,177.8 1525,179.0 1526.5,180.1 1528,181.2 1529.5,182.3 1531,183.2 1532.5,183.9 1534,184.3 1535.5,184.4 1537,184.4 1538.5,184.3 1540,184.3 1541.5,184.3 1543,184.4 1544.5,184.7 1546,185.0 1547.5,185.2 1549,185.3 1550.5,184.9 1552,184.2 1553.5,183.4 1555,182.5 1556.5,181.8 1558,181.1 1559.5,180.4 1561,179.6 1562.5,178.8 1564,178.0 1565,177.5" fill="none" stroke="#00AF67" stroke-width="12" stroke-linejoin="round" stroke-linecap="butt"/>
<polyline points="234.5,189.5 315,189.0 326,187.0 334.6,183.6 339.5,178.8 344.4,172.8 349.3,167.0 354.2,160.6 358,155.5 361.5,152.3 368.5,152.3 373.8,158.2 378.7,166.5 383.6,176.3 391.6,199.3 399.3,214.7 407,226.8 414.7,238.0 423.2,248.0 434,257.9 440,262.5 446.7,272.0 452.7,284.0 457.3,300.0 468.6,380.0 473,440.0 477,500.0 482,600.0 490,780.0 495,880.0 499.2,960.0 501.2,1000.0 509.3,1060.8 517,1000.0 520,960.0 523.8,880.0 528.4,780.0 535.4,600.0 540.3,500.0 543.5,440.0 546.8,380.0 551,340.0 555,300.0 559.3,260.0 562,237.0 566,220.0 571,207.0 578,199.0 586,196.0 594,195.3 602,197.0 617,199.7 632.5,201.7 640,202.4 650,203.0 665,202.5 671.5,199.2 680,191.9 688.6,182.5 697.2,172.2 705.8,165.3 709,165.8 714.4,168.7 718.7,173.5 727.2,187.2 735.8,201.8 744.4,214.4 753,225.0 761,231.5 765.7,231.3 774.3,224.2 782.9,215.6 791.5,202.3 800,190.7 806.9,186.4 814.6,186.4 825,191.4 834,195.4 835.5,195.5 837,195.5 838.5,195.6 840,195.7 841.5,195.7 843,195.8 844.5,195.8 846,195.8 847.5,195.9 849,195.9 850.5,195.9 852,195.9 853.5,195.9 855,195.9 856.5,195.9 858,195.8 859.5,195.8 861,195.7 862.5,195.7 864,195.7 865.5,195.6 867,195.6 868.5,195.5 870,195.5 871.5,195.4 873,195.4 874.5,195.4 876,195.3 877.5,195.3 879,195.3 880.5,195.3 882,195.3 883.5,195.3 885,195.3 886.5,195.4 888,195.4 889.5,195.4 891,195.4 892.5,195.5 894,195.5 895.5,195.5 897,195.5 898.5,195.5 900,195.5 901.5,195.5 903,195.4 904.5,195.4 906,195.4 907.5,195.3 909,195.3 910.5,195.2 912,195.2 913.5,195.1 915,195.0 916.5,195.0 918,194.9 919.5,194.8 921,194.7 922.5,194.6 924,194.6 925.5,194.5 927,194.3 928.5,194.2 930,194.0 931.5,193.8 933,193.5 934.5,193.3 936,193.0 937.5,192.7 939,192.5 940.5,192.2 942,191.9 943.5,191.6 945,191.3 946.5,191.1 948,190.8 949.5,190.6 951,190.4 952.5,190.2 954,189.9 955.5,189.7 957,189.5 958.5,189.3 960,189.0 961.5,188.8 963,188.5 964.5,188.3 966,188.0 967.5,187.8 969,187.5 970.5,187.2 972,186.9 973.5,186.6 975,186.3 976.5,186.0 978,185.7 979.5,185.3 981,185.0 982.5,184.6 984,184.3 985.5,183.9 987,183.5 988.5,183.2 990,182.8 991.5,182.4 993,181.9 994.5,181.4 996,180.9 997.5,180.4 999,179.9 1000.5,179.3 1002,178.8 1003.5,178.3 1005,177.8 1006.5,177.4 1008,177.0 1009.5,176.6 1011,176.3 1012.5,176.0 1014,175.7 1015.5,175.4 1017,175.1 1018.5,174.9 1020,174.6 1021.5,174.4 1023,174.2 1024.5,173.9 1026,173.7 1027.5,173.5 1029,173.3 1030.5,173.1 1032,172.9 1033.5,172.7 1035,172.5 1036.5,172.3 1038,172.2 1039.5,172.1 1041,172.0 1042.5,172.0 1044,172.1 1045.5,172.2 1047,172.4 1048.5,172.6 1050,172.9 1051.5,173.2 1053,173.5 1054.5,173.9 1056,174.2 1057.5,174.5 1059,175.0 1060.5,175.4 1062,176.0 1063.5,176.6 1065,177.2 1066.5,177.8 1068,178.5 1069.5,179.2 1071,179.9 1072.5,180.6 1074,181.4 1075.5,182.3 1077,183.2 1078.5,184.1 1080,185.0 1081.5,185.9 1083,186.8 1084.5,187.6 1086,188.5 1087.5,189.3 1089,190.2 1090.5,191.0 1092,191.8 1093.5,192.7 1095,193.5 1096.5,194.4 1098,195.2 1099.5,196.0 1101,196.7 1102.5,197.4 1104,198.1 1105.5,198.8 1107,199.4 1108.5,199.9 1110,200.3 1111.5,200.7 1113,201.0 1114.5,201.4 1116,201.6 1117.5,201.8 1119,202.0 1120.5,202.0 1122,202.0 1123.5,202.0 1125,201.9 1126.5,201.9 1128,201.8 1129.5,201.8 1131,201.7 1132.5,201.6 1134,201.5 1135.5,201.4 1137,201.3 1138.5,201.1 1140,200.8 1141.5,200.4 1143,199.9 1144.5,199.3 1146,198.6 1147.5,197.9 1149,197.2 1150.5,196.4 1152,195.5 1153.5,194.4 1155,193.2 1156.5,191.8 1158,190.4 1159.5,188.9 1161,187.4 1162.5,186.0 1164,184.5 1165.5,183.1 1167,181.6 1168.5,180.1 1170,178.6 1171.5,177.1 1173,175.5 1174.5,173.9 1176,172.2 1177.5,170.5 1179,168.7 1180.5,166.9 1182,164.9 1183.5,162.9 1185,160.8 1186.5,158.6 1188,156.4 1189.5,154.3 1191,152.2 1192.5,150.0 1194,147.9 1195.5,145.8 1197,143.7 1198.5,141.7 1200,139.8 1201.5,138.0 1203,136.1 1204.5,134.3 1206,132.5 1207.5,130.7 1209,129.1 1210.5,127.6 1212,126.2 1213.5,125.0 1215,124.0 1216.5,123.2 1218,122.4 1219.5,121.7 1221,121.2 1222.5,120.9 1224,120.7 1225.5,120.4 1227,120.3 1228.5,120.2 1230,120.3 1231.5,121.0 1233,121.9 1234.5,122.8 1236,124.2 1237.5,125.8 1239,127.6 1240.5,129.2 1242,130.9 1243.5,132.5 1245,134.2 1246.5,135.9 1248,137.7 1249.5,139.5 1251,141.5 1252.5,143.7 1254,146.0 1255.5,148.4 1257,150.8 1258.5,153.3 1260,155.8 1261.5,158.4 1263,160.9 1264.5,163.3 1266,165.7 1267.5,168.0 1269,170.2 1270.5,172.3 1272,174.4 1273.5,176.3 1275,178.2 1276.5,180.0 1278,181.7 1279.5,183.4 1281,185.0 1282.5,186.6 1284,187.8 1285.5,188.6 1287,189.3 1288.5,189.9 1290,190.3 1291.5,190.4 1293,190.6 1294.5,190.7 1296,190.8 1297.5,190.8 1299,190.7 1300.5,190.1 1302,189.2 1303.5,188.3 1305,187.3 1306.5,186.2 1308,184.9 1309.5,183.6 1311,182.3 1312.5,181.1 1314,179.9 1315.5,178.6 1317,177.4 1318.5,176.2 1320,175.1 1321.5,173.9 1323,172.8 1324.5,171.6 1326,170.6 1327.5,169.6 1329,168.7 1330.5,167.8 1332,167.0 1333.5,166.3 1335,165.6 1336.5,165.0 1338,164.3 1339.5,163.7 1341,163.2 1342.5,162.8 1344,162.5 1345.5,162.3 1347,162.2 1348.5,162.0 1350,161.9 1351.5,161.8 1353,161.7 1354.5,161.7 1356,161.7 1357.5,161.8 1359,161.9 1360.5,162.1 1362,162.2 1363.5,162.3 1365,162.4 1366.5,162.4 1368,162.5 1369.5,162.5 1371,162.5 1372.5,162.6 1374,162.6 1375.5,162.6 1377,162.6 1378.5,162.5 1380,162.4 1381.5,162.1 1383,161.8 1384.5,161.4 1386,161.0 1387.5,160.5 1389,160.0 1390.5,159.4 1392,158.7 1393.5,157.8 1395,156.8 1396.5,155.7 1398,154.5 1399.5,153.4 1401,152.3 1402.5,151.2 1404,150.1 1405.5,148.9 1407,147.7 1408.5,146.5 1410,145.2 1411.5,143.9 1413,142.5 1414.5,141.2 1416,139.7 1417.5,138.2 1419,136.6 1420.5,135.1 1422,133.5 1423.5,131.8 1425,130.2 1426.5,128.6 1428,127.0 1429.5,125.4 1431,123.7 1432.5,122.0 1434,120.4 1435.5,118.8 1437,117.3 1438.5,115.8 1440,114.4 1441.5,112.9 1443,111.5 1444.5,110.2 1446,108.9 1447.5,107.8 1449,106.7 1450.5,105.7 1452,104.8 1453.5,103.9 1455,103.1 1456.5,102.5 1458,102.0 1459.5,101.6 1461,101.3 1462.5,101.0 1464,100.8 1465.5,100.7 1467,100.7 1468.5,101.0 1470,101.4 1471.5,101.9 1473,102.5 1474.5,103.1 1476,103.8 1477.5,104.7 1479,105.9 1480.5,107.2 1482,108.6 1483.5,110.0 1485,111.3 1486.5,112.7 1488,114.1 1489.5,115.6 1491,117.2 1492.5,118.9 1494,120.7 1495.5,122.9 1497,125.2 1498.5,127.7 1500,130.0 1501.5,132.2 1503,134.5 1504.5,136.7 1506,139.0 1507.5,141.3 1509,143.7 1510.5,146.2 1512,148.6 1513.5,151.0 1515,153.2 1516.5,155.3 1518,157.3 1519.5,159.2 1521,161.1 1522.5,162.9 1524,164.6 1525.5,166.4 1527,168.1 1528.5,169.9 1530,171.6 1531.5,173.2 1533,174.6 1534.5,175.9 1536,177.0 1537.5,178.2 1539,179.1 1540.5,179.8 1542,180.1 1543.5,180.3 1545,180.4 1546.5,180.5 1548,180.5 1549.5,180.4 1551,180.0 1552.5,179.4 1554,178.7 1555.5,178.0 1557,177.4 1558.5,176.7 1560,176.0 1561.5,175.2 1563,174.4 1564.5,173.6 1565,173.3" fill="none" stroke="#C47AE3" stroke-width="12" stroke-linejoin="round" stroke-linecap="butt"/>
</g>
<g filter="url(#bin)">
<text x="212.5" y="53.0" font-size="56.5" text-anchor="end">0.5</text>
<text x="212.5" y="206.1" font-size="56.5" text-anchor="end">0.0</text>
<text x="212.5" y="359.3" font-size="56.5" text-anchor="end">-0.5</text>
<text x="212.5" y="512.4" font-size="56.5" text-anchor="end">-1.0</text>
<text x="212.5" y="665.6" font-size="56.5" text-anchor="end">-1.5</text>
<text x="212.5" y="818.7" font-size="56.5" text-anchor="end">-2.0</text>
<text x="212.5" y="971.9" font-size="56.5" text-anchor="end">-2.5</text>
<text x="212.5" y="1125.0" font-size="56.5" text-anchor="end">-3.0</text>
<text x="323.2" y="1175" font-size="56.5" text-anchor="middle">200</text>
<text x="500.5" y="1175" font-size="56.5" text-anchor="middle">400</text>
<text x="677.8" y="1175" font-size="56.5" text-anchor="middle">600</text>
<text x="855.2" y="1175" font-size="56.5" text-anchor="middle">800</text>
<text x="1032.5" y="1175" font-size="56.5" text-anchor="middle">1000</text>
<text x="1209.8" y="1175" font-size="56.5" text-anchor="middle">1200</text>
<text x="1387.2" y="1175" font-size="56.5" text-anchor="middle">1400</text>
<text x="1564.5" y="1175" font-size="56.5" text-anchor="middle">1600</text>
<text x="900.5" y="1276" font-size="56" text-anchor="middle">Time (ns)</text>
<text transform="translate(61,548) rotate(-90)" font-size="60.7" text-anchor="middle">Displacement (nm)</text>
</g>
<line x1="1159" y1="645.9" x2="1296" y2="645.9" stroke="#737373" stroke-width="12" stroke-linecap="round" shape-rendering="crispEdges"/>
<text transform="translate(1309.5,667.00) scale(1,1.075)" font-size="60" filter="url(#bin)">25um</text>
<line x1="1159" y1="722.1" x2="1296" y2="722.1" stroke="#FF4040" stroke-width="12" stroke-linecap="round" shape-rendering="crispEdges"/>
<text transform="translate(1309.5,743.25) scale(1,1.075)" font-size="60" filter="url(#bin)">50um</text>
<line x1="1159" y1="798.4" x2="1296" y2="798.4" stroke="#0072E6" stroke-width="12" stroke-linecap="round" shape-rendering="crispEdges"/>
<text transform="translate(1309.5,819.50) scale(1,1.075)" font-size="60" filter="url(#bin)">100um</text>
<line x1="1159" y1="874.6" x2="1296" y2="874.6" stroke="#00AF67" stroke-width="12" stroke-linecap="round" shape-rendering="crispEdges"/>
<text transform="translate(1309.5,895.75) scale(1,1.075)" font-size="60" filter="url(#bin)">150um</text>
<line x1="1159" y1="950.9" x2="1296" y2="950.9" stroke="#C47AE3" stroke-width="12" stroke-linecap="round" shape-rendering="crispEdges"/>
<text transform="translate(1309.5,972.00) scale(1,1.075)" font-size="60" filter="url(#bin)">200um</text>
</svg></body></html>
